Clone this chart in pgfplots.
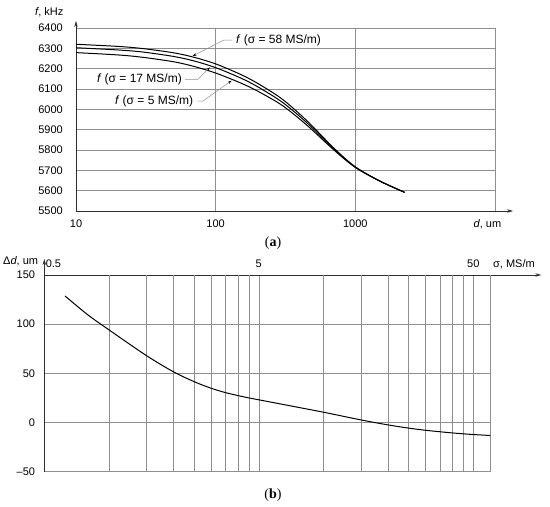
\documentclass[border=0pt]{standalone}
\usepackage{fontspec}
\setmainfont{Liberation Sans}
\newfontfamily\capfont{Liberation Serif}
\usepackage{pgfplots}
\pgfplotsset{compat=1.18}
\usetikzlibrary{arrows.meta}

\definecolor{gridgray}{HTML}{8F8F8F}
\definecolor{axisdark}{HTML}{2E2E2E}

\pgfplotsset{
  panel/.style={
    scale only axis,
    clip=false,
    enlargelimits=false,
    major tick length=0pt,
    minor tick length=0pt,
    grid=major,
    major grid style={gridgray, line width=0.5pt},
    axis line style={axisdark, line width=0.7pt},
    tick label style={font=\fontsize{11}{13}\selectfont},
  },
}
\tikzset{
  leader/.style={gridgray, line width=0.5pt, -{Stealth[length=4pt,width=2.5pt,color=black]}},
}

\begin{document}
\begin{tikzpicture}[font=\fontsize{11}{13}\selectfont]
\useasboundingbox (0,0) rectangle (550pt,507pt);

% panel (a): f against d
\begin{axis}[
  panel,
  xmode=log,
  at={(76pt,296pt)}, anchor=south west,
  width=419pt, height=183pt,
  xmin=10, xmax=10000, ymin=5500, ymax=6400,
  axis x line=bottom, axis y line=left,
  x axis line style={-{Stealth[length=6pt,width=3.5pt]}, shorten >=-18pt},
  y axis line style={-{Stealth[length=6pt,width=3.5pt]}, shorten >=-7pt},
  xtick={10,100,1000}, xticklabels={10,100,1000},
  extra x ticks={10000}, extra x tick labels={},
  ytick={5500,5600,5700,5800,5900,6000,6100,6200,6300,6400},
  yticklabels={5500,5600,5700,5800,5900,6000,6100,6200,6300,6400},
  xticklabel style={anchor=north, inner sep=0pt, yshift=-9pt},
  yticklabel style={anchor=east, inner sep=0pt, xshift=-13pt},
]
% sigma = 58 MS/m
\addplot[black, line width=1pt, smooth] coordinates {
  (10,6320) (20,6309.5) (30,6299) (50,6278) (70,6256) (100,6223.5) (150,6172.5)
  (200,6127.5) (300,6050) (450,5944) (700,5810) (1000,5717) (1500,5647) (2250,5592)
};
% sigma = 17 MS/m
\addplot[black, line width=1pt, smooth] coordinates {
  (10,6303) (20,6292) (30,6282) (50,6260) (70,6238) (100,6205) (150,6155)
  (200,6111) (300,6035) (450,5934) (700,5806) (1000,5716) (1500,5647) (2250,5592)
};
% sigma = 5 MS/m
\addplot[black, line width=1pt, smooth] coordinates {
  (10,6279) (20,6267.5) (30,6256) (50,6234) (70,6211) (100,6178.5) (150,6130.5)
  (200,6089.5) (300,6019) (450,5922) (700,5801) (1000,5714) (1500,5647) (2250,5592)
};

\draw[leader] (axis cs:131,6341) -- (axis cs:114.6,6341) -- (axis cs:68.4,6262);
\node[anchor=west, inner sep=0pt, font=\fontsize{12}{14}\selectfont]
  at (axis cs:139.6,6341) {\textit{f} (σ = 58 MS/m)};

\draw[leader] (axis cs:60.3,6147) -- (axis cs:74.6,6147) -- (axis cs:91,6207);
\node[anchor=east, inner sep=0pt, font=\fontsize{12}{14}\selectfont]
  at (axis cs:57.4,6147) {\textit{f} (σ = 17 MS/m)};

\draw[leader] (axis cs:74.6,6041) -- (axis cs:81.1,6041) -- (axis cs:130,6141);
\node[anchor=east, inner sep=0pt, font=\fontsize{12}{14}\selectfont]
  at (axis cs:69.2,6041) {\textit{f} (σ = 5 MS/m)};

\node[anchor=center, inner sep=0pt] at (rel axis cs:0.982,-0.071) {\textit{d}, um};
\end{axis}

% panel (b): delta d against sigma
\begin{axis}[
  panel,
  xmode=log,
  at={(44.3pt,35.3pt)}, anchor=south west,
  width=446pt, height=196.7pt,
  xmin=0.5, xmax=60, ymin=-50, ymax=150,
  axis x line=top, axis y line=left,
  x axis line style={-{Stealth[length=6pt,width=3.5pt]}, shorten >=-51pt},
  y axis line style={-{Stealth[length=6pt,width=3.5pt]}, shorten >=-16pt},
  xtick={0.5,5,50},
  xticklabels={\makebox[0pt][l]{\hspace{1.5pt}0.5},5,50},
  extra x ticks={1,1.5,2,2.5,3,3.5,4,4.5,10,15,20,25,30,35,40,45,60},
  extra x tick labels={},
  ytick={-50,0,50,100,150},
  yticklabels={–50,0,50,100,150},
  xticklabel style={anchor=south, inner sep=0pt, yshift=7pt},
  yticklabel style={anchor=east, inner sep=0pt, xshift=-9pt},
]
\addplot[black, line width=1pt, smooth] coordinates {
  (0.625,128.6) (0.8,109.3) (1,94.3) (1.5,67.9) (2,51.6) (2.5,41.5) (3,34.8)
  (3.5,30.4) (4,27.4) (4.5,25) (5,23.1) (6,19.8) (10,10.5) (15,2.6)
  (20,-2.4) (25,-5.7) (30,-7.9) (35,-9.4) (40,-10.6) (45,-11.5) (50,-12.2) (60,-13.2)
};
\node[anchor=center, inner sep=0pt] at (rel axis cs:1.053,1.056) {σ, MS/m};
\node[anchor=center, inner sep=0pt] at (rel axis cs:-0.053,1.068) {Δ\textit{d}, um};
\end{axis}

\node[anchor=west, inner sep=0pt] at (35pt,494.3pt) {\textit{f}, kHz};
\node[font=\capfont\fontsize{14}{16}\selectfont] at (273pt,264pt) {(\textbf{a})};
\node[font=\capfont\fontsize{14}{16}\selectfont] at (273pt,11.5pt) {(\textbf{b})};
\end{tikzpicture}
\end{document}
